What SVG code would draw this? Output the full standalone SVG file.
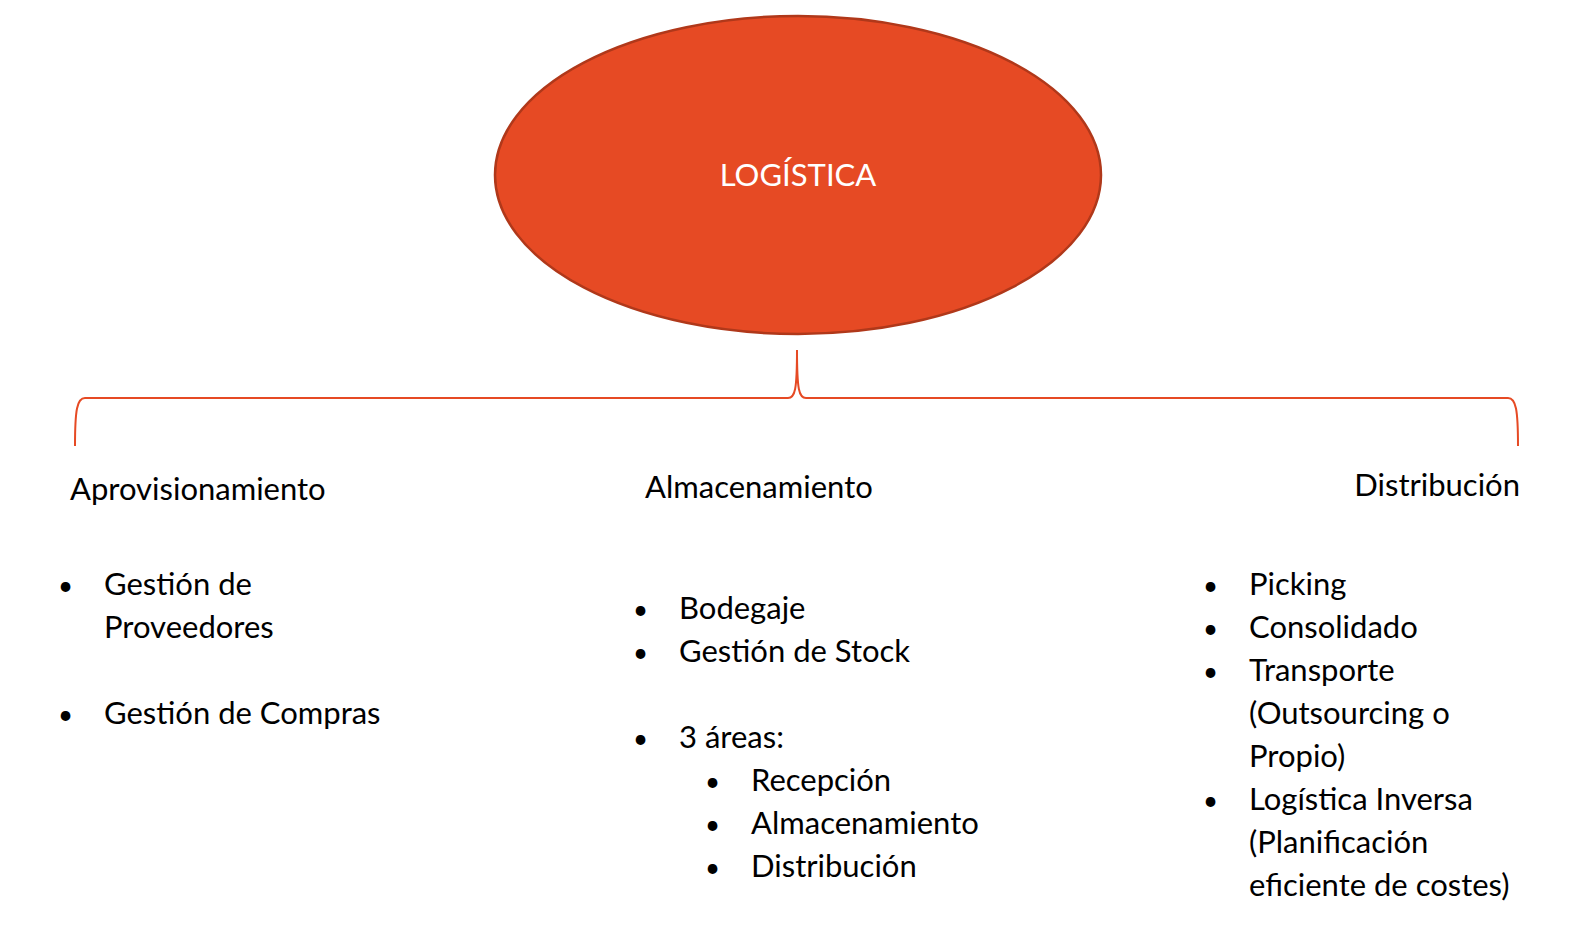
<svg xmlns="http://www.w3.org/2000/svg" width="1574" height="935" viewBox="0 0 1574 935">
<style>
text{font-family:Lato,"Open Sans",sans-serif;font-size:31px;fill:#000}
.b{font-size:26px}
</style>
<rect width="1574" height="935" fill="#fff"/>
<g id="root">
<ellipse cx="798" cy="175" rx="303" ry="159" fill="#E64A24" stroke="#B0381A" stroke-width="2.5"/>
<text x="798" y="186" text-anchor="middle" style="fill:#fff">LOGÍSTICA</text>
</g>
<g id="connectors">
<path d="M75,446 C75,410 77,398 85,398 L788,398 C795,398 797,390 797,350 C797,390 799,398 806,398 L1508,398 C1516,398 1518,410 1518,446" fill="none" stroke="#E64A24" stroke-width="2"/>
</g>
<g id="aprov">
<text x="70" y="500">Aprovisionamiento</text>
<text x="58" y="595" class="b">•</text><text x="104" y="595">Gestión de</text>
<text x="104" y="638">Proveedores</text>
<text x="58" y="724" class="b">•</text><text x="104" y="724">Gestión de Compras</text>
</g>
<g id="almac">
<text x="645" y="498">Almacenamiento</text>
<text x="633" y="619" class="b">•</text><text x="679" y="619">Bodegaje</text>
<text x="633" y="662" class="b">•</text><text x="679" y="662">Gestión de Stock</text>
<text x="633" y="748" class="b">•</text><text x="679" y="748">3 áreas:</text>
<text x="705" y="791" class="b">•</text><text x="751" y="791">Recepción</text>
<text x="705" y="834" class="b">•</text><text x="751" y="834">Almacenamiento</text>
<text x="705" y="877" class="b">•</text><text x="751" y="877">Distribución</text>
</g>
<g id="distr">
<text x="1520" y="496" text-anchor="end">Distribución</text>
<text x="1203" y="595" class="b">•</text><text x="1249" y="595">Picking</text>
<text x="1203" y="638" class="b">•</text><text x="1249" y="638">Consolidado</text>
<text x="1203" y="681" class="b">•</text><text x="1249" y="681">Transporte</text>
<text x="1249" y="724">(Outsourcing o</text>
<text x="1249" y="767">Propio)</text>
<text x="1203" y="810" class="b">•</text><text x="1249" y="810">Logística Inversa</text>
<text x="1249" y="853">(Planificación</text>
<text x="1249" y="896">eficiente de costes)</text>
</g>
</svg>
